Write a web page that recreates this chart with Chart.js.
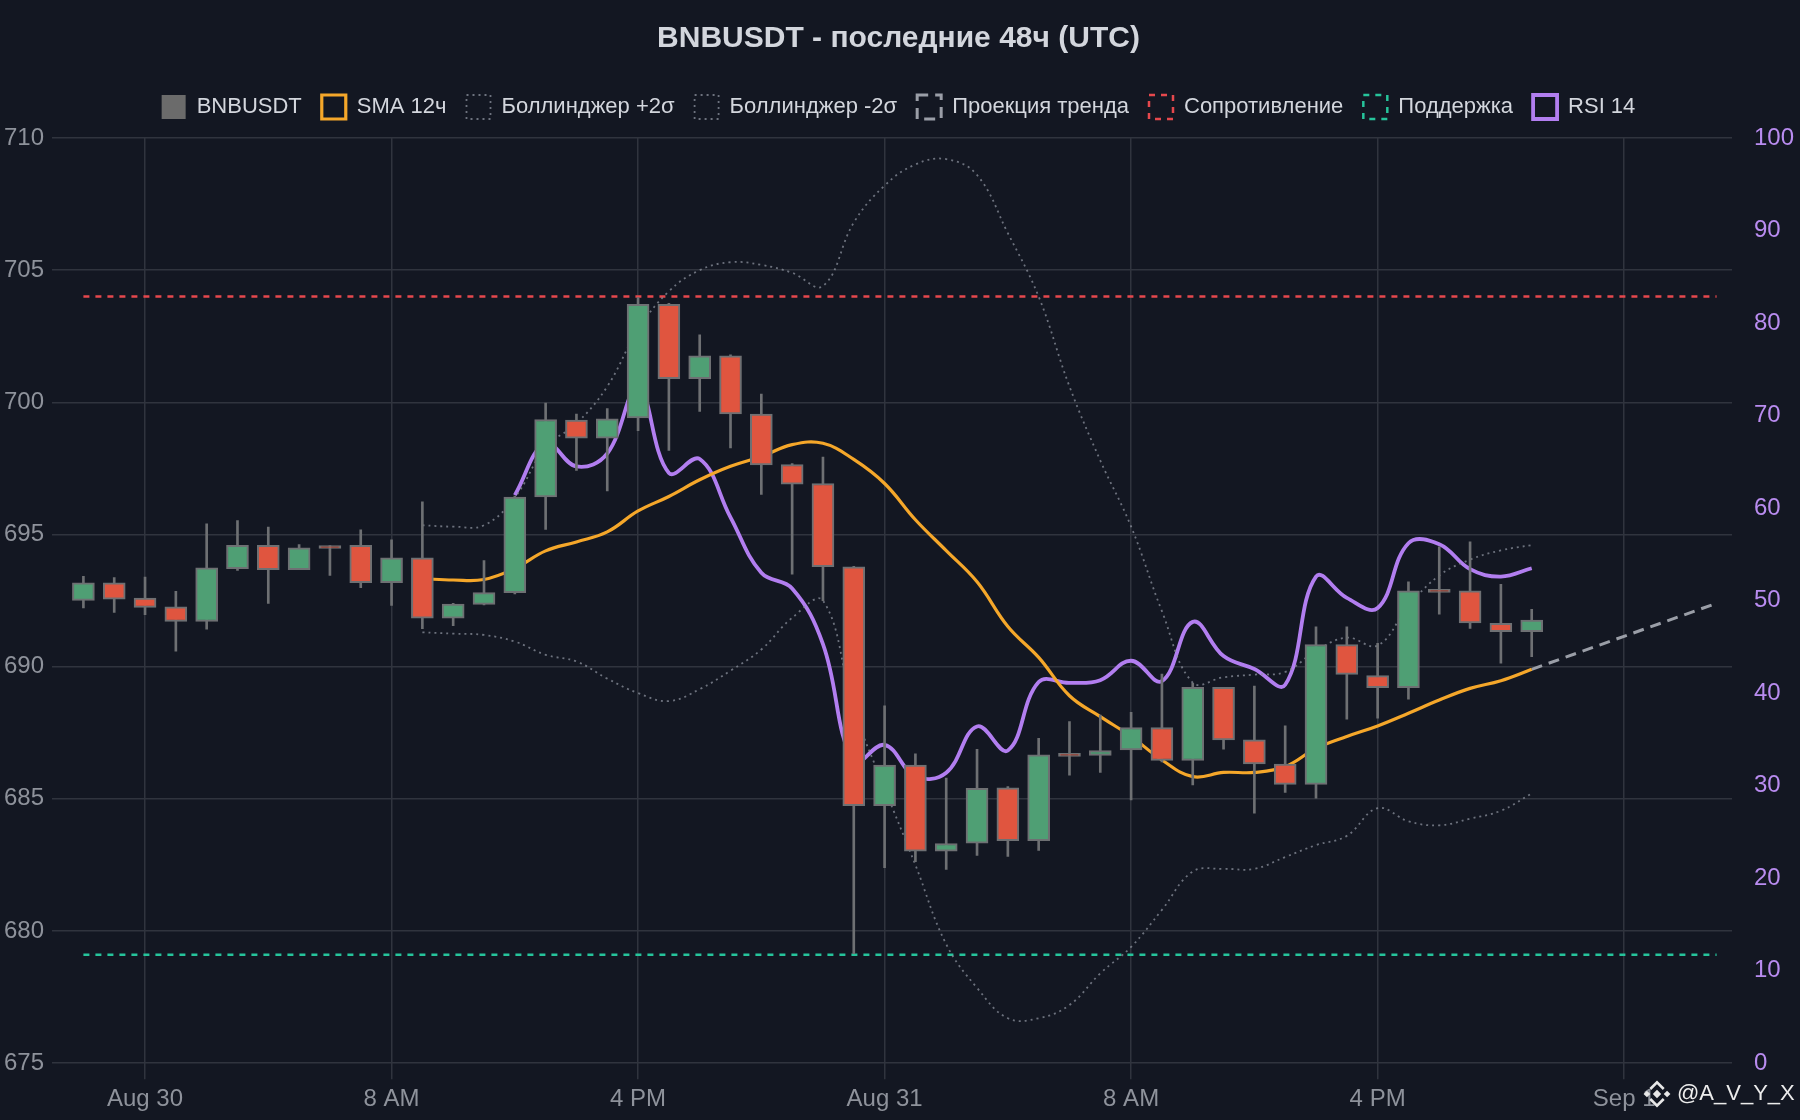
<!DOCTYPE html>
<html><head><meta charset="utf-8">
<script src="https://cdn.jsdelivr.net/npm/chart.js@4.4.1/dist/chart.umd.min.js"></script>
<style>
html,body{margin:0;padding:0;background:#131722;}
#wrap{width:1800px;height:1120px;position:relative;}
</style></head><body>
<div id="wrap"><canvas id="c"></canvas></div>
<script>
// ---- data (hours relative to 2025-08-30 00:00 UTC) ----
const hours = [-2,-1,0,1,2,3,4,5,6,7,8,9,10,11,12,13,14,15,16,17,18,19,20,21,22,23,24,25,26,27,28,29,30,31,32,33,34,35,36,37,38,39,40,41,42,43,44,45];
const openP  = [692.51,693.17,692.60,692.26,691.71,693.71,694.59,693.67,694.58,694.59,693.18,694.12,691.84,692.36,692.80,696.42,699.33,698.64,699.41,703.71,700.90,701.76,699.56,697.65,696.93,693.78,684.74,686.28,683.02,683.32,685.42,683.42,686.72,686.64,686.85,687.70,686.45,689.22,687.23,686.32,685.55,690.84,689.66,689.21,692.93,692.87,691.64,691.32];
const highP  = [693.42,693.37,693.39,692.85,695.40,695.53,695.28,694.62,694.58,695.18,694.80,696.24,692.40,694.01,696.45,699.97,699.56,699.76,703.96,703.75,702.55,701.80,700.31,697.68,697.93,693.80,688.52,686.70,685.79,686.87,685.46,687.29,687.92,688.17,688.27,689.72,689.37,689.22,689.27,687.76,691.51,691.51,690.88,693.21,694.53,694.72,693.12,692.17];
const lowP   = [692.22,692.05,691.97,690.59,691.42,693.64,692.39,693.67,693.45,692.99,692.32,691.44,691.55,692.34,692.75,695.19,697.42,696.65,698.93,698.18,699.66,698.28,696.52,693.50,692.50,679.14,682.40,682.62,682.33,682.86,682.82,683.05,685.90,686.00,684.96,686.40,685.53,686.88,684.46,685.24,685.03,688.01,688.05,688.77,691.99,691.45,690.13,690.38];
const closeP = [693.17,692.55,692.24,691.71,693.74,694.59,693.67,694.50,694.47,693.18,694.12,691.84,692.37,692.80,696.42,699.35,698.64,699.38,703.71,700.90,701.76,699.56,697.63,696.90,693.78,684.74,686.28,683.02,683.31,685.40,683.42,686.67,686.61,686.83,687.70,686.45,689.22,687.23,686.32,685.55,690.84,689.71,689.21,692.87,692.81,691.66,691.32,691.76];
const sma12 = [null,null,null,null,null,null,null,null,null,null,null,
  693.33,693.28,693.30,693.72,694.38,694.72,695.10,695.89,696.44,697.07,697.58,697.95,698.40,698.45,697.84,696.93,695.56,694.39,693.21,691.52,690.35,688.90,688.11,687.36,686.47,685.84,686.00,686.00,686.22,686.91,687.36,687.76,688.24,688.74,689.18,689.47,689.90];
const bollUpper = [null,null,null,null,null,null,null,null,null,null,null,
  695.35,695.30,695.35,696.40,698.30,699.20,700.60,702.75,704.20,705.00,705.30,705.20,704.90,704.40,706.80,708.20,709.00,709.20,708.60,706.40,704.00,700.60,697.80,695.30,692.10,689.40,689.60,689.70,689.80,690.60,691.10,690.80,692.30,693.45,694.05,694.40,694.60];
const bollLower = [null,null,null,null,null,null,null,null,null,null,null,
  691.30,691.25,691.20,690.95,690.45,690.20,689.55,689.00,688.70,689.15,689.85,690.65,691.85,692.50,688.40,685.40,682.50,679.50,677.85,676.70,676.70,677.20,678.40,679.40,680.80,682.25,682.35,682.35,682.80,683.25,683.60,684.65,684.15,684.00,684.25,684.55,685.20];
const rsi14 = [null,null,null,null,null,null,null,null,null,null,null,null,null,null,
  61.4,67.0,64.5,65.9,73.0,63.8,65.3,59.0,53.0,51.3,45.3,32.6,34.4,31.0,31.4,36.4,33.8,41.2,41.1,41.4,43.5,41.3,47.7,44.0,42.6,40.9,52.6,50.3,49.2,56.2,56.1,53.4,52.6,53.5];
const projHours = [45, 51];
const projValues = [689.90, 692.40];
const levelHours = [-2, 51];
const resistanceLevel = 704.0;
const supportLevel = 679.1;
const xTickHours = [0, 8, 16, 24, 32, 40, 48];
const xTickLabels = ['Aug 30', '8 AM', '4 PM', 'Aug 31', '8 AM', '4 PM', 'Sep 1'];

// ---- styles ----
const GREEN = '#4f9f74', RED = '#e0553f', EDGE = '#6e7073';
const FONT = '"Liberation Sans", Arial, sans-serif';
Chart.defaults.font.family = FONT;

const pts = (xs, ys) => xs.map((x, i) => ({x: x, y: ys[i]}));

const legendMargin = {
  id: 'legendMargin',
  beforeInit(chart) {
    const fit = chart.legend.fit;
    chart.legend.fit = function () { fit.bind(chart.legend)(); this.height += 9; };
  }
};

const watermark = {
  id: 'watermark',
  afterDraw(chart) {
    const c = chart.ctx;
    c.save();
    const cx = 1657, cy = 1094, s = 4.2;
    c.fillStyle = '#e8e8e8';
    const dia = (x, y, r) => { c.beginPath(); c.moveTo(x, y - r); c.lineTo(x + r, y); c.lineTo(x, y + r); c.lineTo(x - r, y); c.closePath(); c.fill(); };
    dia(cx, cy, s);
    dia(cx - 2.4 * s, cy, s * 0.8);
    dia(cx + 2.4 * s, cy, s * 0.8);
    c.lineWidth = 2.6; c.strokeStyle = '#e8e8e8';
    c.beginPath(); c.moveTo(cx - 1.6 * s, cy - 1.2 * s); c.lineTo(cx, cy - 2.8 * s); c.lineTo(cx + 1.6 * s, cy - 1.2 * s); c.stroke();
    c.beginPath(); c.moveTo(cx - 1.6 * s, cy + 1.2 * s); c.lineTo(cx, cy + 2.8 * s); c.lineTo(cx + 1.6 * s, cy + 1.2 * s); c.stroke();
    c.font = '22px ' + FONT;
    c.fillStyle = '#ececec';
    c.textBaseline = 'middle';
    c.textAlign = 'left';
    c.fillText('@A_V_Y_X', 1677, 1094);
    c.restore();
  }
};

new Chart(document.getElementById('c'), {
  type: 'line',
  data: {
    datasets: [
      { type: 'bar', label: 'BNBUSDT', data: pts(hours, hours.map((h, i) => [openP[i], closeP[i]])),
        backgroundColor: ctx => (closeP[ctx.dataIndex] >= openP[ctx.dataIndex] ? GREEN : RED),
        borderColor: EDGE, borderWidth: 2, borderSkipped: false, grouped: false, barThickness: 22, order: 0, yAxisID: 'y' },
      { type: 'bar', label: 'wick', data: pts(hours, hours.map((h, i) => [lowP[i], highP[i]])),
        backgroundColor: EDGE, borderWidth: 0, grouped: false, barThickness: 2, order: 1, yAxisID: 'y' },
      { label: 'SMA 12ч', data: pts(hours, sma12), borderColor: '#f5a72a', backgroundColor: 'transparent', borderWidth: 3.2,
        pointRadius: 0, tension: 0.4, order: 2, yAxisID: 'y' },
      { label: 'Боллинджер +2σ', data: pts(hours, bollUpper), borderColor: 'rgba(140,146,158,0.75)', backgroundColor: 'transparent',
        borderWidth: 1.8, borderDash: [2, 4], pointRadius: 0, tension: 0.4, order: 3, yAxisID: 'y' },
      { label: 'Боллинджер -2σ', data: pts(hours, bollLower), borderColor: 'rgba(140,146,158,0.75)', backgroundColor: 'transparent',
        borderWidth: 1.8, borderDash: [2, 4], pointRadius: 0, tension: 0.4, order: 4, yAxisID: 'y' },
      { label: 'Проекция тренда', data: pts(projHours, projValues), borderColor: '#9a9ea7', backgroundColor: 'transparent',
        borderWidth: 3, borderDash: [11, 7], pointRadius: 0, order: 5, yAxisID: 'y' },
      { label: 'Сопротивление', data: pts(levelHours, [resistanceLevel, resistanceLevel]), borderColor: '#e5484d', backgroundColor: 'transparent',
        borderWidth: 2.5, borderDash: [6, 6], pointRadius: 0, order: 6, yAxisID: 'y' },
      { label: 'Поддержка', data: pts(levelHours, [supportLevel, supportLevel]), borderColor: '#26c49b', backgroundColor: 'transparent',
        borderWidth: 2.5, borderDash: [6, 6], pointRadius: 0, order: 7, yAxisID: 'y' },
      { label: 'RSI 14', data: pts(hours, rsi14), borderColor: '#b27ef0', backgroundColor: 'transparent', borderWidth: 3.8,
        pointRadius: 0, tension: 0.4, order: 8, yAxisID: 'yRsi' }
    ]
  },
  options: {
    responsive: true, maintainAspectRatio: false, animation: false, devicePixelRatio: 1,
    layout: { padding: { left: 3, right: 6, top: 0, bottom: 0 } },
    plugins: {
      title: { display: true, text: 'BNBUSDT - последние 48ч (UTC)', color: '#d3d6dd',
        font: { size: 30, weight: 'bold', family: FONT }, padding: { top: 21, bottom: 18 } },
      legend: { display: true, position: 'top',
        labels: { color: '#d3d6dd', font: { size: 22, family: FONT }, boxWidth: 24, boxHeight: 24, padding: 20,
          generateLabels(chart) {
            const items = Chart.defaults.plugins.legend.labels.generateLabels(chart);
            return items.filter(it => it.text !== 'wick').map(it => {
              if (it.text === 'BNBUSDT') { it.fillStyle = '#6b6b6b'; it.strokeStyle = '#6b6b6b'; it.lineWidth = 0; }
              return it;
            });
          } } },
      tooltip: { enabled: false }
    },
    scales: {
      x: { type: 'linear', min: -2.5, max: 51.5, offset: false,
        afterBuildTicks: axis => { axis.ticks = xTickHours.map(v => ({ value: v })); },
        ticks: { color: '#8e929b', font: { size: 24 }, padding: 6, maxRotation: 0, autoSkip: false,
          callback: v => xTickLabels[xTickHours.indexOf(v)] },
        grid: { color: '#30343e', lineWidth: 1.5, tickLength: 16, offset: false },
        border: { display: false } },
      y: { type: 'linear', position: 'left', min: 675, max: 710, beginAtZero: false,
        afterFit: axis => { axis.width = 65; },
        ticks: { stepSize: 5, color: '#8e929b', font: { size: 24 }, padding: 8 },
        grid: { color: '#30343e', lineWidth: 1.5, tickLength: 16 },
        border: { display: false } },
      yRsi: { type: 'linear', position: 'right', min: 0, max: 100,
        afterFit: axis => { axis.width = 62; },
        ticks: { stepSize: 10, color: '#b98cf0', font: { size: 24 }, padding: 6 },
        grid: { display: false, drawOnChartArea: false, tickLength: 16 },
        border: { display: false } }
    }
  },
  plugins: [legendMargin, watermark]
});
</script>
</body></html>
